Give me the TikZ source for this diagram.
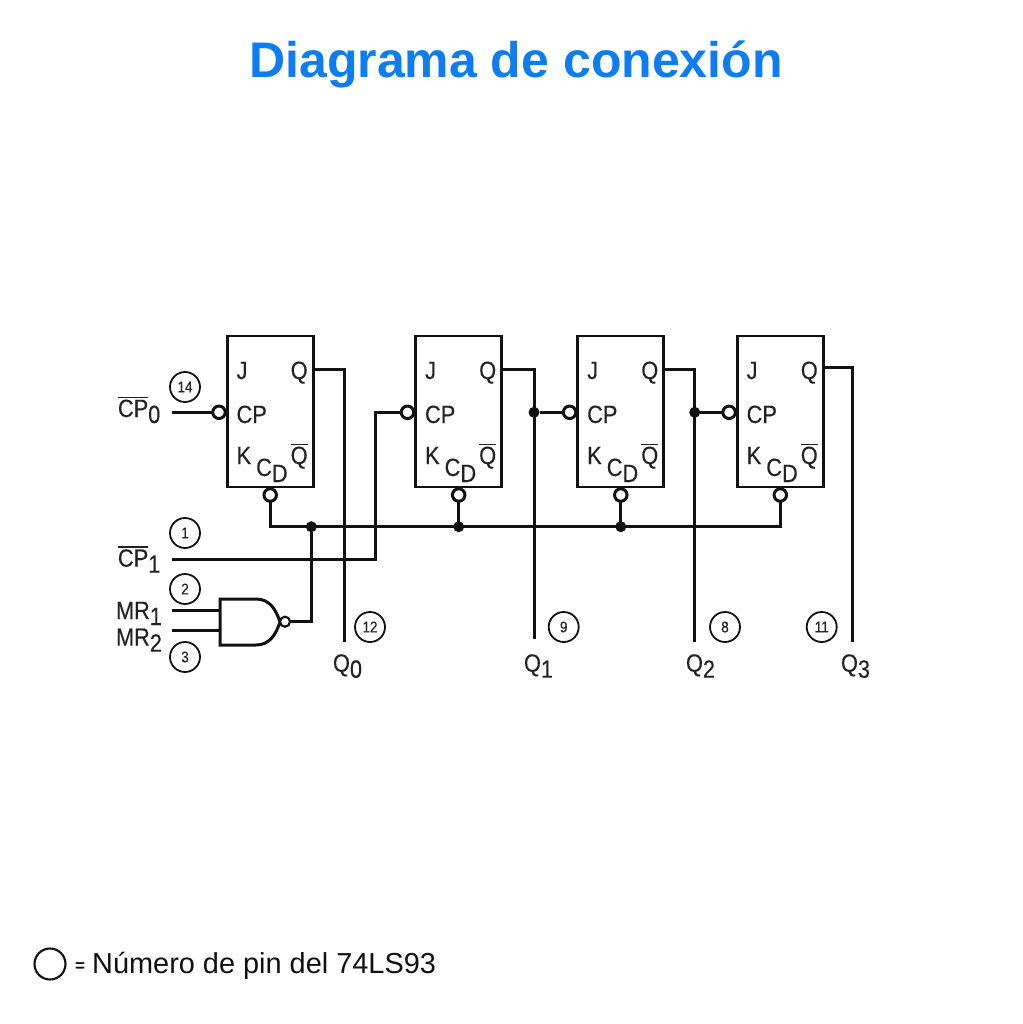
\documentclass[tikz,border=0pt]{standalone}
\usepackage{fontspec}
\setmainfont{Liberation Sans}
\newfontfamily\cktfont[FakeStretch=0.87,FakeBold=0.25]{Liberation Sans}
\definecolor{ink}{HTML}{111111}
\definecolor{txt}{HTML}{222222}
\definecolor{titleblue}{HTML}{0E7DF0}
\newcommand{\lowr}[1]{\raisebox{-6pt}{#1}}
\newcommand{\ovl}[1]{\vbox{\hrule height 1.5pt \kern 1.4pt \hbox{#1}}}
\tikzset{
  x=1pt,y=-1pt,
  wire/.style={draw=ink,line width=3pt,line cap=butt,line join=miter},
  ffbox/.style={draw=ink,line width=2.9pt,rectangle,minimum width=86pt,minimum height=151pt,inner sep=0,outer sep=0,fill=white},
  bubble/.style={draw=ink,line width=3pt,circle,minimum size=12.5pt,inner sep=0,outer sep=0,fill=white},
  dot/.style={circle,fill=ink,minimum size=11pt,inner sep=0,outer sep=0},
  pinnum/.style={draw=ink,line width=1.8pt,circle,minimum size=30pt,inner sep=0,outer sep=0,text=txt,font=\cktfont\fontsize{15.5}{15.5}\selectfont},
  lab/.style={anchor=base west,inner sep=0,outer sep=0,text=txt,font=\cktfont\fontsize{25}{28}\selectfont},
}
\begin{document}
\begin{tikzpicture}
\useasboundingbox (0,0) rectangle (1022,1024);
\fill[white] (0,0) rectangle (1022,1024);

\node[anchor=base,inner sep=0,text=titleblue,font=\bfseries\fontsize{50}{56}\selectfont] (title) at (516,78) {Diagrama de conexión};

% flip-flops
\foreach \n/\cx in {a/270.2,b/458.7,c/620.8,d/780.3}{
  \node[ffbox] (ff\n) at (\cx,411.5) {};
  \node[lab] (\n-j) at ([xshift=9.4pt,yshift=-43pt]ff\n.north west) {J};
  \node[lab] (\n-q) at ([xshift=63.5pt,yshift=-43pt]ff\n.north west) {Q};
  \node[lab] (\n-cp) at ([xshift=9.4pt,yshift=-87pt]ff\n.north west) {CP};
  \node[lab] (\n-k) at ([xshift=9.4pt,yshift=-128pt]ff\n.north west) {K};
  \node[lab] (\n-cd) at ([xshift=29pt,yshift=-140pt]ff\n.north west) {C\lowr{D}};
  \node[lab] (\n-qn) at ([xshift=63.5pt,yshift=-128pt]ff\n.north west) {\ovl{Q}};
  \node[bubble] (cp\n) at ([xshift=-8.2pt,yshift=-0.8pt]ff\n.west) {};
  \node[bubble] (cd\n) at ([yshift=-8pt]ff\n.south) {};
}

% free ends and corners
\coordinate (inA) at (172,412.3);
\coordinate (inB) at (172,559.7);
\coordinate (cpBcorner) at (375.7,559.7);
\coordinate (cpBtop) at (375.7,412.3);
\coordinate (busL) at (270.2,526.7);
\coordinate (busR) at (780.3,526.7);
\coordinate (qat) at (344,369); \coordinate (qab) at (344,641.5);
\coordinate (qbt) at (534,369); \coordinate (qbb) at (534,639);
\coordinate (qct) at (694.7,369); \coordinate (qcb) at (694.7,641.5);
\coordinate (qdt) at (852.7,367); \coordinate (qdb) at (852.7,642);
\coordinate (inM) at (172,610.7);
\coordinate (inN) at (172,630.7);
\coordinate (gateM) at (220,610.7);
\coordinate (gateN) at (220,630.7);
\coordinate (gout) at (311.3,621.7);

% outputs
\foreach \n in {a,b,c,d}{
  \draw[wire] (ff\n.east |- q\n t) -- (q\n t) -- (q\n b);
}

% reset bus
\draw[wire] (cda.south) -- (busL) -- (busR) -- (cdd.south);
\draw[wire] (cdb.south) -- (cdb.south |- busL);
\draw[wire] (cdc.south) -- (cdc.south |- busL);
\node[dot] (busdot0) at (gout |- busL) {};
\node[dot] (busdot1) at (cdb.south |- busL) {};
\node[dot] (busdot2) at (cdc.south |- busL) {};

% clocks
\draw[wire] (inA) -- (cpa.west);
\draw[wire] (inB) -- (cpBcorner) -- (cpBtop) -- (cpb.west);
\node[dot] (qbdot) at (qbt |- cpc) {};
\node[dot] (qcdot) at (qct |- cpd) {};
\draw[wire] (qbdot) -- (cpc.west);
\draw[wire] (qcdot) -- (cpd.west);

% NAND gate
\draw[wire] (inM) -- (gateM);
\draw[wire] (inN) -- (gateN);
\draw[wire,fill=white] (220,599) -- (256,599) .. controls (270,599) and (276,610) .. (280,622)
   .. controls (276,634) and (270,645) .. (256,645) -- (220,645) -- cycle;
\node[bubble,minimum size=10pt,line width=2.2pt] (gbub) at (285,621.7) {};
\draw[wire] (gbub.east) -- (gout) -- (busdot0);

% pin numbers
\node[pinnum] (p14) at (185,387) {14};
\node[pinnum] (p1) at (185,533) {1};
\node[pinnum] (p2) at (185,589) {2};
\node[pinnum] (p3) at (185,657) {3};
\node[pinnum] (p12) at (370,627) {12};
\node[pinnum] (p9) at (563.7,627) {9};
\node[pinnum] (p8) at (725,627) {8};
\node[pinnum] (p11) at (821.7,627) {11};

% signal names
\node[lab] (cp0) at (118,417) {\ovl{CP}\lowr{0}};
\node[lab] (cp1) at (118,566.7) {\ovl{CP}\lowr{1}};
\node[lab] (mr1) at (116,619) {MR\lowr{1}};
\node[lab] (mr2) at (116,645.7) {MR\lowr{2}};
\node[lab] (q0) at (333,671.7) {Q\lowr{0}};
\node[lab] (q1) at (524,671.7) {Q\lowr{1}};
\node[lab] (q2) at (686,671.7) {Q\lowr{2}};
\node[lab] (q3) at (841,671.7) {Q\lowr{3}};

% legend
\node[draw=ink,line width=2.1pt,circle,minimum size=31pt,inner sep=0,outer sep=0] (legc) at (50,964) {};
\node[anchor=base west,inner sep=0,font=\bfseries\fontsize{17}{20}\selectfont,text=ink] (legeq) at (75,971) {=};
\node[anchor=base west,inner sep=0,font=\fontsize{28.9}{32}\selectfont,text=ink] (legt) at (92,973) {Número de pin del 74LS93};
\end{tikzpicture}
\end{document}
